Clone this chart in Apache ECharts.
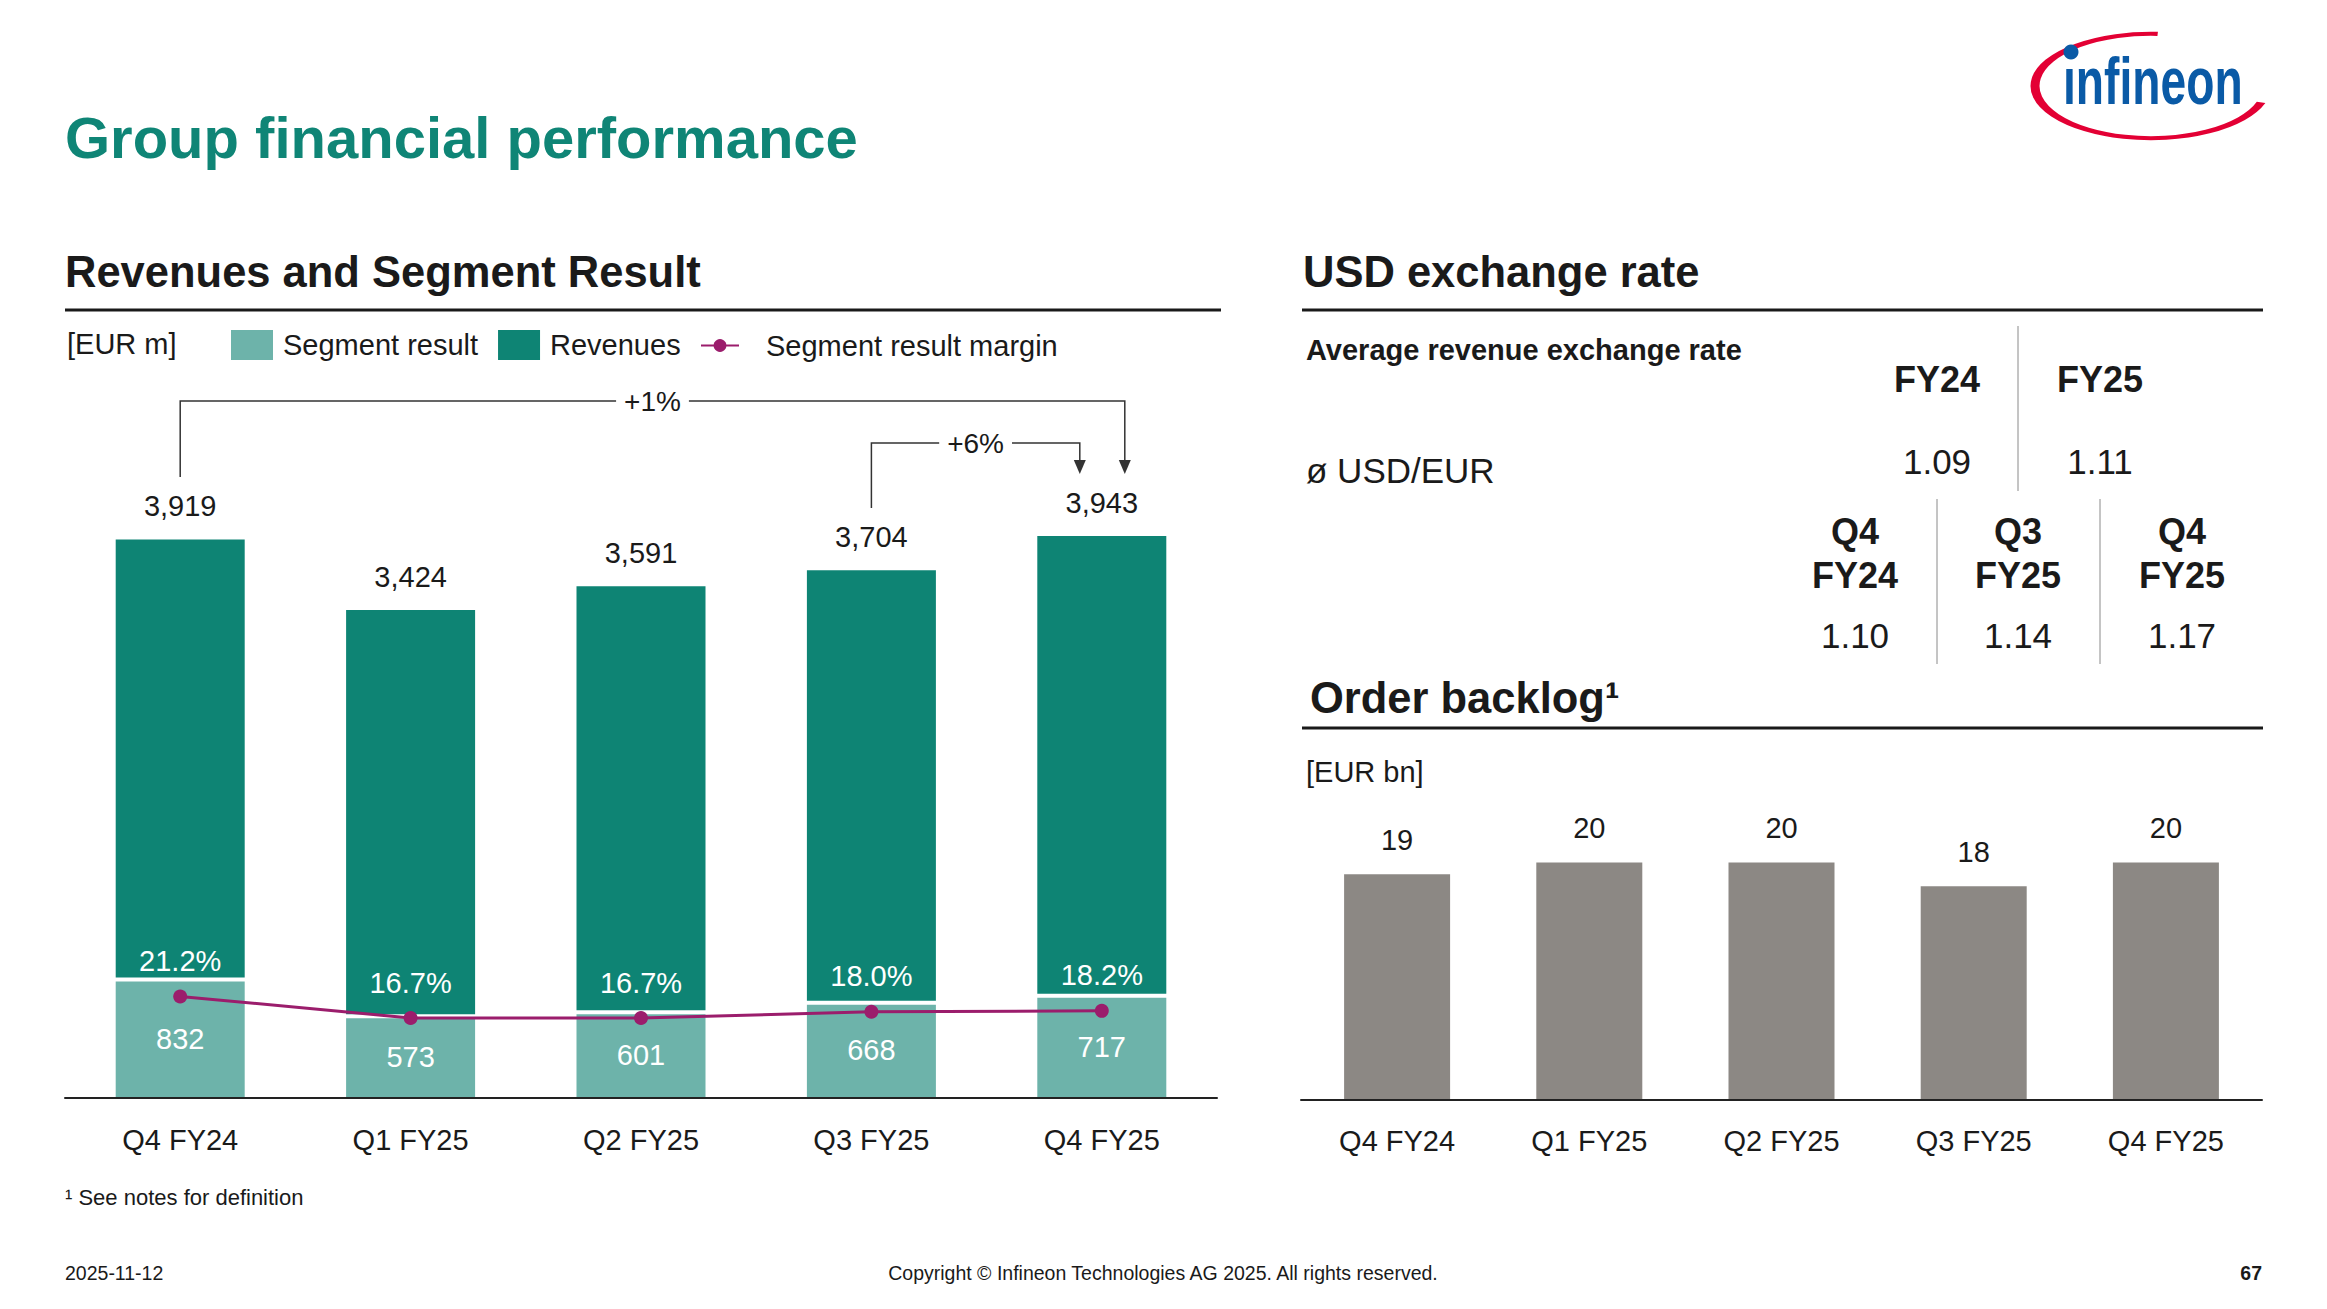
<!DOCTYPE html>
<html>
<head>
<meta charset="utf-8">
<title>Group financial performance</title>
<script src="https://cdn.jsdelivr.net/npm/echarts@6/dist/echarts.min.js"></script>
<style>
	html, body { margin: 0; padding: 0; background: #fff; }
	#main { width: 2327px; height: 1309px; }
</style>
</head>
<body>
<div id="main"></div>
<script>
var quarters = ["Q4 FY24", "Q1 FY25", "Q2 FY25", "Q3 FY25", "Q4 FY25"];
var revenues = [3919, 3424, 3591, 3704, 3943];
var segmentResult = [832, 573, 601, 668, 717];
var segmentMargin = [21.2, 16.7, 16.7, 18.0, 18.2];
var orderBacklog = [19, 20, 20, 18, 20];

var fxYearLabels = ["FY24", "FY25"];
var fxYearRates = ["1.09", "1.11"];
var fxQuarterLabels = ["Q4\nFY24", "Q3\nFY25", "Q4\nFY25"];
var fxQuarterRates = ["1.10", "1.14", "1.17"];

var FONT = '"Liberation Sans", Arial, sans-serif';
var INK = "#1a1a1a";
var TEAL_DARK = "#0e8474";
var TEAL_LIGHT = "#6db3aa";
var PURPLE = "#9b1d6c";
var GREY = "#8c8884";
var BAR_W = 129;

var chart = echarts.init(document.getElementById("main"), null, {renderer: "svg"});

// revenues bar on top of the segment result part
var revenueRest = revenues.map(function (v, i) {
	return v - segmentResult[i];
});

function fmtThousands(v) {
	return v.toString().replace(/\B(?=(\d{3})+(?!\d))/g, ",");
}

function txt(x, y, text, size, opts) {
	opts = opts || {};
	return {
		type: "text",
		x: x,
		y: y,
		z: 10,
		scaleX: opts.scaleX || 1,
		style: {
			text: text,
			fill: opts.color || INK,
			font: (opts.bold ? "bold " : "") + size + "px " + FONT,
			align: opts.align || "left",
			verticalAlign: "middle",
			textAlign: opts.align || "left",
			textVerticalAlign: "middle",
			lineHeight: opts.lineHeight,
			backgroundColor: opts.bg,
			padding: opts.bg ? [0, 8] : 0
		}
	};
}

function line(x1, y1, x2, y2, color, width) {
	return {
		type: "line",
		z: 10,
		shape: {x1: x1, y1: y1, x2: x2, y2: y2},
		style: {stroke: color, lineWidth: width}
	};
}

var axisLabelStyle = {
	fontSize: 29,
	fontFamily: FONT,
	color: INK
};

var option = {
	animation: false,
	backgroundColor: "#fff",
	textStyle: {fontFamily: FONT},
	legend: [
		{
			left: 226,
			top: 325,
			itemWidth: 42,
			itemHeight: 30,
			itemGap: 20,
			icon: "rect",
			selectedMode: false,
			data: ["Segment result", "Revenues"],
			itemStyle: {borderWidth: 0},
			textStyle: {fontSize: 29, fontFamily: FONT, color: INK, padding: [0, 0, 0, 5]}
		},
		{
			left: 695,
			top: 326,
			itemWidth: 38,
			itemHeight: 16,
			selectedMode: false,
			data: ["Segment result margin"],
			textStyle: {fontSize: 29, fontFamily: FONT, color: INK, padding: [0, 0, 0, 22]}
		}
	],
	grid: [
		{left: 65, top: 528, width: 1152, height: 570},
		{left: 1301, top: 803, width: 961, height: 297}
	],
	xAxis: [
		{
			type: "category",
			gridIndex: 0,
			data: quarters,
			z: 5,
			axisLine: {lineStyle: {color: "#222", width: 2}},
			axisTick: {show: false},
			axisLabel: Object.assign({margin: 27}, axisLabelStyle)
		},
		{
			type: "category",
			gridIndex: 1,
			data: quarters,
			z: 5,
			axisLine: {lineStyle: {color: "#222", width: 2}},
			axisTick: {show: false},
			axisLabel: Object.assign({margin: 26}, axisLabelStyle)
		}
	],
	yAxis: [
		{type: "value", gridIndex: 0, min: 0, max: 4000, show: false},
		{type: "value", gridIndex: 0, min: 0, max: 119, show: false},
		{type: "value", gridIndex: 1, min: 0, max: 25, show: false}
	],
	series: [
		{
			name: "Segment result",
			type: "bar",
			stack: "rev",
			xAxisIndex: 0,
			yAxisIndex: 0,
			barWidth: BAR_W,
			data: segmentResult,
			itemStyle: {color: TEAL_LIGHT},
			label: {
				show: true,
				position: "inside",
				color: "#fff",
				fontSize: 29,
				fontFamily: FONT
			}
		},
		{
			name: "Revenues",
			type: "bar",
			stack: "rev",
			xAxisIndex: 0,
			yAxisIndex: 0,
			barWidth: BAR_W,
			data: revenueRest,
			itemStyle: {color: TEAL_DARK},
			label: {
				show: true,
				position: "top",
				distance: 19,
				color: INK,
				fontSize: 29,
				fontFamily: FONT,
				formatter: function (p) {
					return fmtThousands(revenues[p.dataIndex]);
				}
			}
		},
		{
			name: "Segment result margin",
			type: "line",
			xAxisIndex: 0,
			yAxisIndex: 1,
			data: segmentMargin,
			symbol: "circle",
			symbolSize: 14,
			z: 4,
			itemStyle: {color: PURPLE},
			lineStyle: {color: PURPLE, width: 3},
			label: {
				show: true,
				position: "top",
				distance: 14,
				color: "#fff",
				fontSize: 29,
				fontFamily: FONT,
				formatter: function (p) {
					return p.value.toFixed(1) + "%";
				}
			}
		},
		{
			name: "Order backlog",
			type: "bar",
			xAxisIndex: 1,
			yAxisIndex: 2,
			barWidth: 106,
			data: orderBacklog,
			itemStyle: {color: GREY},
			label: {
				show: true,
				position: "top",
				distance: 20,
				color: INK,
				fontSize: 29,
				fontFamily: FONT
			}
		}
	]
};

chart.setOption(option);

// annotations, positioned from the axes
function px(i) {
	return chart.convertToPixel({xAxisIndex: 0}, quarters[i]);
}
var x0 = px(0);
var x3 = px(3);
var x4 = px(4);
var xA = x4 + 23;
var xB = x4 - 22;

function bracket(xStart, yStart, yTop, xEnd, label) {
	return [
		{
			type: "polyline",
			z: 9,
			shape: {points: [[xStart, yStart], [xStart, yTop], [xEnd, yTop], [xEnd, 462]]},
			style: {stroke: "#333", lineWidth: 1.5, fill: null}
		},
		{
			type: "polygon",
			z: 9,
			shape: {points: [[xEnd - 6, 460], [xEnd + 6, 460], [xEnd, 474]]},
			style: {fill: "#333"}
		},
		txt((xStart + xEnd) / 2, yTop, label, 28, {align: "center", bg: "#fff"})
	];
}

var graphics = [];

// white gap between segment result and the rest of the revenue bar
segmentResult.forEach(function (v, i) {
	var y = chart.convertToPixel({yAxisIndex: 0}, v);
	var cx = px(i);
	graphics.push({
		type: "line",
		z: 3,
		shape: {x1: cx - BAR_W / 2 - 1, y1: y, x2: cx + BAR_W / 2 + 1, y2: y},
		style: {stroke: "#fff", lineWidth: 4}
	});
});

// logo
graphics.push({
	type: "arc",
	x: 2151,
	y: 86,
	scaleY: 0.45,
	shape: {cx: 0, cy: 0, r: 116, startAngle: 0.32, endAngle: 4.77, clockwise: true},
	style: {stroke: "#e30034", lineWidth: 9, fill: null}
});
graphics.push(txt(2063, 81, "\u0131nfineon", 66, {bold: true, color: "#0a5aa6", scaleX: 0.7}));
graphics.push({
	type: "circle",
	z: 10,
	shape: {cx: 2071, cy: 52, r: 7.5},
	style: {fill: "#0a5aa6"}
});

// titles
graphics.push(txt(65, 137, "Group financial performance", 58, {bold: true, color: "#0f8576"}));
graphics.push(txt(65, 272, "Revenues and Segment Result", 43.5, {bold: true}));
graphics.push(txt(1303, 272, "USD exchange rate", 43.5, {bold: true}));
graphics.push(line(65, 310, 1221, 310, INK, 3));
graphics.push(line(1302, 310, 2263, 310, INK, 3));
graphics.push(txt(67, 344, "[EUR m]", 29));

graphics = graphics.concat(bracket(x0, 477, 401, xA, "+1%"));
graphics = graphics.concat(bracket(x3, 508, 443, xB, "+6%"));

// exchange rate table
var yearCols = [1937, 2100];
var quarterCols = [1855, 2018, 2182];
graphics.push(txt(1306, 350, "Average revenue exchange rate", 29, {bold: true}));
graphics.push(txt(1306, 470, "\u00f8 USD/EUR", 35));
fxYearLabels.forEach(function (t, i) {
	graphics.push(txt(yearCols[i], 379, t, 36, {bold: true, align: "center"}));
	graphics.push(txt(yearCols[i], 461, fxYearRates[i], 35, {align: "center"}));
});
graphics.push(line(2018, 326, 2018, 491, "#8a8a8a", 1));
fxQuarterLabels.forEach(function (t, i) {
	graphics.push(txt(quarterCols[i], 553, t, 36, {bold: true, align: "center", lineHeight: 44}));
	graphics.push(txt(quarterCols[i], 635, fxQuarterRates[i], 35, {align: "center"}));
});
graphics.push(line(1937, 499, 1937, 664, "#8a8a8a", 1));
graphics.push(line(2100, 499, 2100, 664, "#8a8a8a", 1));

// order backlog heading
graphics.push(txt(1310, 698, "Order backlog\u00b9", 43.5, {bold: true}));
graphics.push(line(1302, 728, 2263, 728, INK, 3));
graphics.push(txt(1306, 772, "[EUR bn]", 29));

// footnote and footer
graphics.push(txt(65, 1197, "\u00b9 See notes for definition", 22));
graphics.push(txt(65, 1273, "2025-11-12", 19.5));
graphics.push(txt(1163, 1273, "Copyright \u00a9 Infineon Technologies AG 2025. All rights reserved.", 19.5, {align: "center"}));
graphics.push(txt(2262, 1273, "67", 19.5, {bold: true, align: "right"}));

chart.setOption({graphic: graphics});
</script>
</body>
</html>
